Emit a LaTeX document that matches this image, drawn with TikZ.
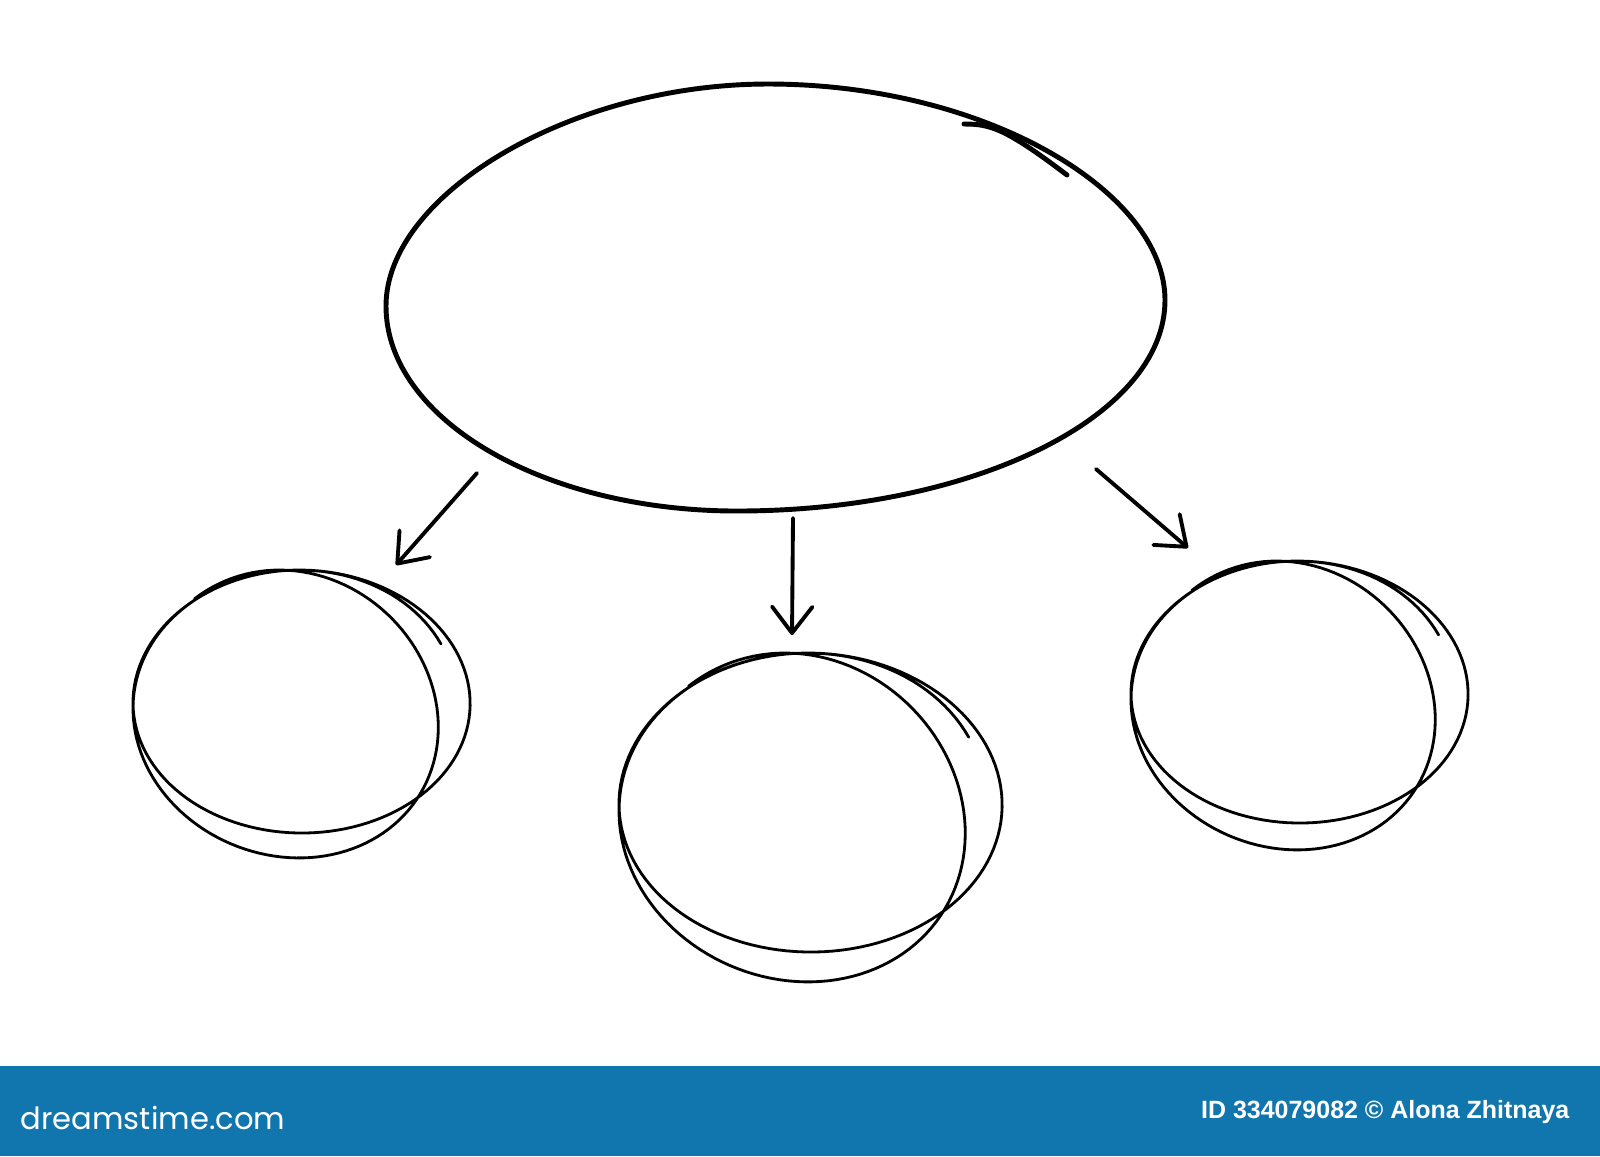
\documentclass[tikz,border=0pt]{standalone}
\usepackage{fontspec}
\usepackage{tikz}
\usetikzlibrary{arrows.meta, shapes.geometric, positioning}
\newfontfamily\logofont{Poppins}
\newfontfamily\creditfont{Liberation Sans}
\definecolor{barblue}{RGB}{18,118,174}

\begin{document}
\begin{tikzpicture}[x=0.01cm, y=-0.01cm,
    bigline/.style={line width=1.4pt, line cap=round, line join=round},
    scribble/.style={line width=0.8pt, line cap=round, line join=round},
    pointer/.style={line width=1.1pt, line cap=round, -{Straight Barb[length=7.5pt, width=11.5pt, round]}}]

        % Khung hình
        \useasboundingbox (0,0) rectangle (1600,1156);
        \fill[white] (0,0) rectangle (1600,1156);

        % Hình bầu dục lớn (vẽ tay)
        \draw[bigline] (386,306) .. controls (386,195) and (570,84) .. (768,84)
            .. controls (986,84) and (1165,192) .. (1165,300)
            .. controls (1165,417) and (973,511) .. (737,511)
            .. controls (543,511) and (386,419) .. cycle;
        \draw[bigline] (964,124) .. controls (990,124) and (1005,128) .. (1067,175); % nét thừa

        % Ba vòng tròn vẽ tay (trái, giữa, phải)
        \foreach \cxa/\cxb/\rxa/\rxb/\cya/\cyb/\rya/\ryb in {
            277/302.2/144/169.2/729.7/701.5/159.7/131.5,
            782.1/811.3/163.1/192.3/836.3/802.5/183.3/149.5,
            1274.2/1300.2/143.2/169.2/722.4/692/161.4/131}
        {
            \draw[scribble] plot[domain=0:1, samples=300, variable=\t]
                ({\cxa+(\cxb-\cxa)*sin(130*\t)+(\rxa+(\rxb-\rxa)*sin(130*\t))*cos(235+818*\t)},
                 {\cya+(\cyb-\cya)*sin(130*\t)+(\rya+(\ryb-\rya)*sin(130*\t))*sin(235+818*\t)});
        }

        % Các mũi tên
        \coordinate (arrL1) at (477,473);
        \coordinate (arrL2) at (396,565);
        \coordinate (arrM1) at (793,518);
        \coordinate (arrM2) at (792,635);
        \coordinate (arrR1) at (1096,469);
        \coordinate (arrR2) at (1188,548);
        \draw[pointer] (arrL1) -- (arrL2); % mũi tên trái
        \draw[pointer] (arrM1) -- (arrM2); % mũi tên giữa
        \draw[pointer] (arrR1) -- (arrR2); % mũi tên phải

        % Dải chân trang
        \fill[barblue] (0,1066) rectangle (1600,1156);
        \node (logo) [anchor=base west, text=white, inner sep=0pt, font=\logofont\fontsize{8.7}{10}\selectfont] at (20,1129) {dreamstime.com};
        \node (credit) [anchor=base east, text=white, inner sep=0pt, font=\creditfont\bfseries\fontsize{7.1}{8}\selectfont] at (1570,1118) {ID 334079082 © Alona Zhitnaya};

\end{tikzpicture}
\end{document}
